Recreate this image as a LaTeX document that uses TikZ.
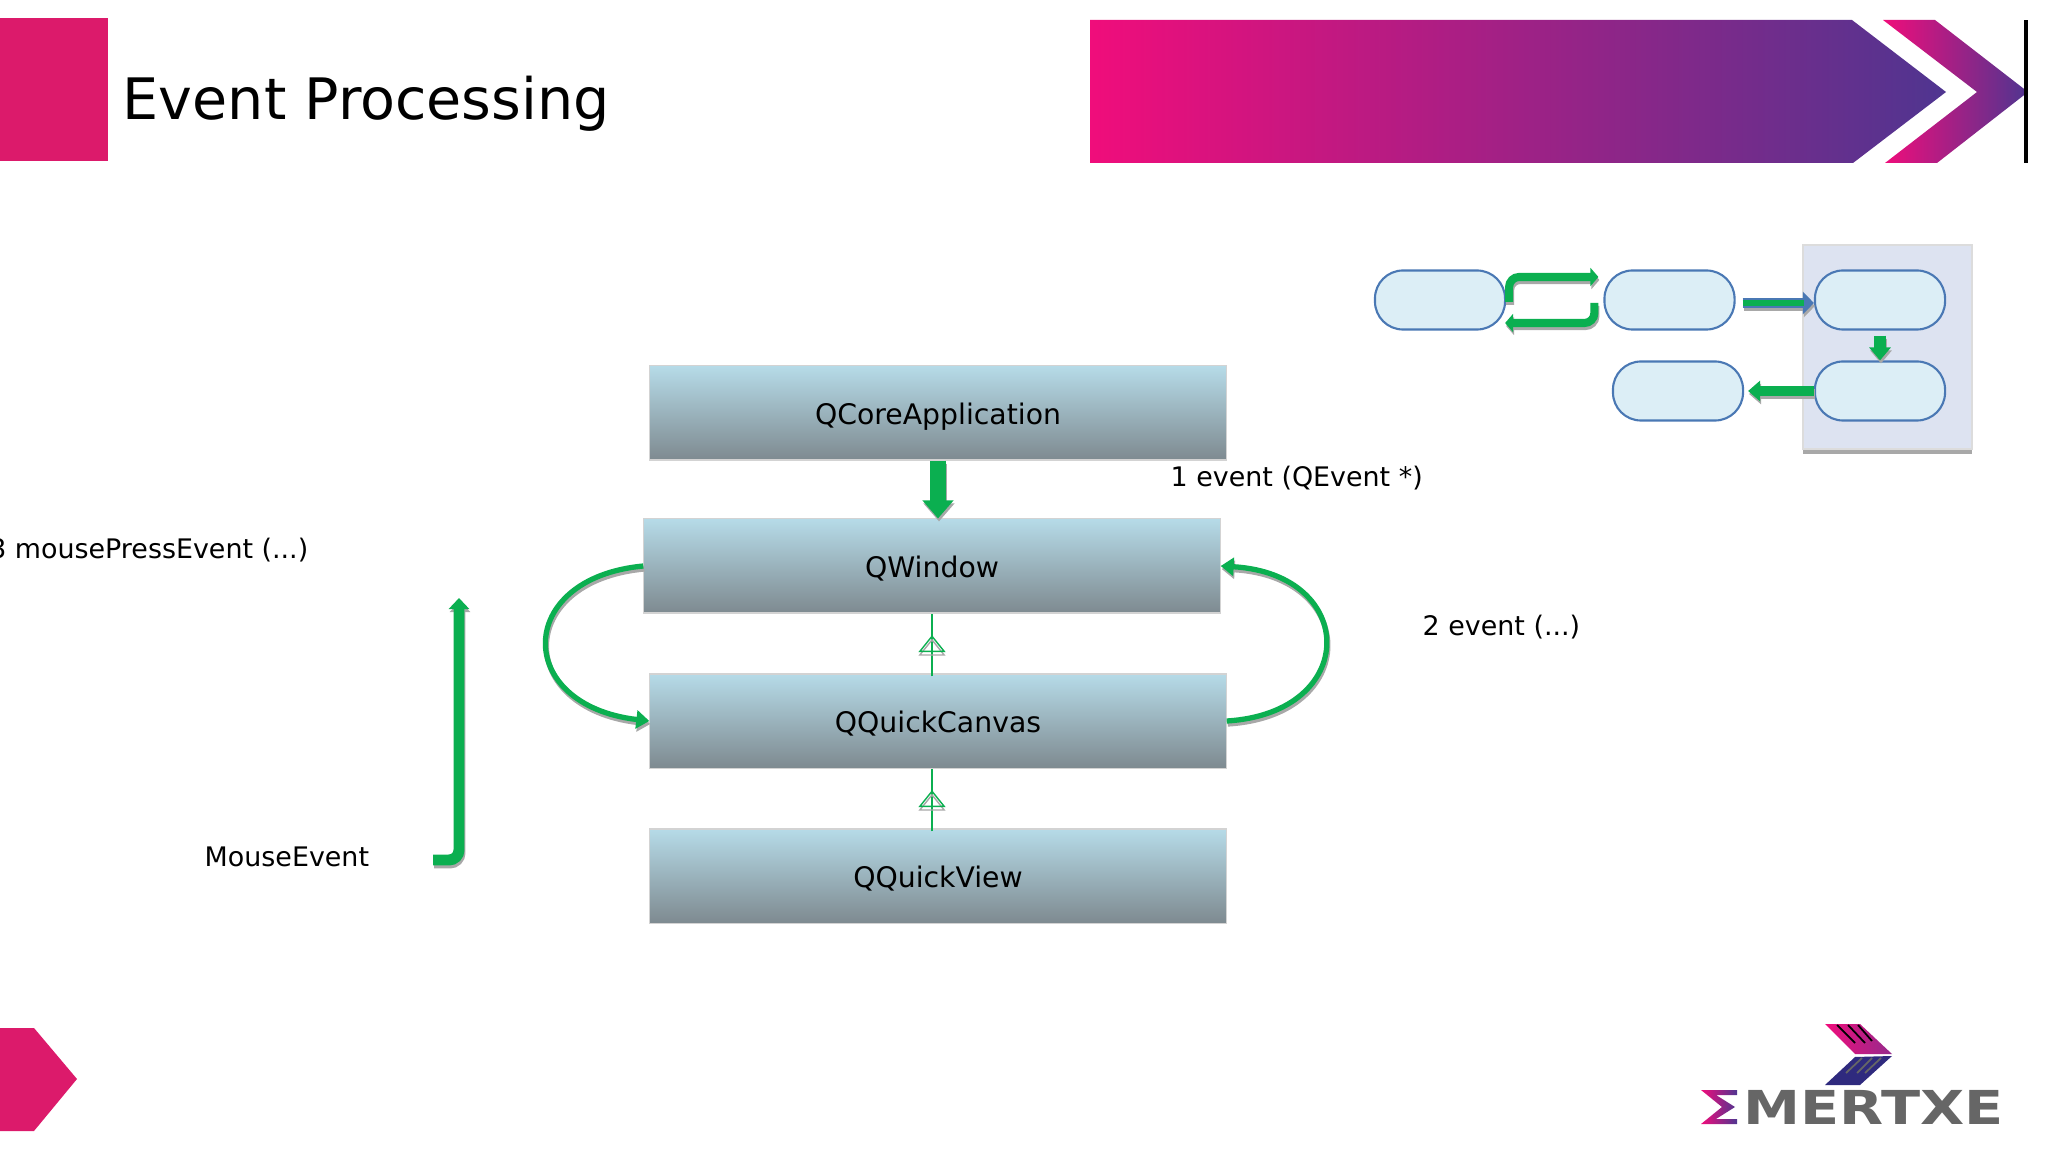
\documentclass[tikz,border=0pt]{standalone}
\usepackage{fontspec}
\usepackage{graphicx}
\setmainfont{DejaVu Sans}
\usetikzlibrary{arrows.meta,decorations.markings}

\definecolor{pinkmain}{HTML}{DC1A6B}
\definecolor{pinkbright}{HTML}{F00D7B}
\definecolor{purplemid}{HTML}{952A8C}
\definecolor{purpledark}{HTML}{4F3590}
\definecolor{arrowgreen}{HTML}{0BAF50}
\definecolor{shadowgray}{HTML}{A8A8A8}
\definecolor{boxtop}{HTML}{B6DBE8}
\definecolor{boxbottom}{HTML}{7E8A90}
\definecolor{pillfill}{HTML}{DCEEF6}
\definecolor{pillline}{HTML}{4A78B4}
\definecolor{panelfill}{HTML}{DDE3F1}
\definecolor{logogray}{HTML}{666666}
\definecolor{logoblue}{HTML}{2F2A7E}

\tikzset{
  classbox/.style={draw=shadowgray!50, line width=0.3pt, top color=boxtop, bottom color=boxbottom,
    minimum width=5.76cm, minimum height=0.94cm, inner sep=0pt, text height=0.232cm, text depth=0pt,
    font=\fontsize{8.05}{10}\selectfont},
  pill/.style={draw=pillline, line width=0.6pt, fill=pillfill, rounded corners=0.28cm,
    minimum width=1.30cm, minimum height=0.59cm, inner sep=0pt},
  label/.style={inner sep=0pt, font=\fontsize{7.65}{10}\selectfont},
  grayshadow/.style={line width=#1, preaction={draw=shadowgray, line width=#1, transform canvas={xshift=0.01cm,yshift=-0.03cm}}},
  bigarrow/.style={draw=arrowgreen, grayshadow=4.5pt, -{Triangle[width=30*0.2845pt,length=18*0.2845pt]}},
  curvearrow/.style={draw=arrowgreen, grayshadow=1.5pt, -{Triangle[width=18*0.2845pt,length=13*0.2845pt]}},
  elbowarrow/.style={draw=arrowgreen, grayshadow=2.3pt, rounded corners=0.1cm, -{Triangle[width=18*0.2845pt,length=8*0.2845pt]}},
  thinarrow/.style={draw=arrowgreen, line width=0.4pt, shorten <=-0.03cm, decoration={markings,
      mark=at position 0.58 with {\arrow[shadowgray]{Triangle[open,width=27*0.2845pt,length=17*0.2845pt]}},
      mark=at position 0.64 with {\arrow[arrowgreen]{Triangle[open,width=27*0.2845pt,length=17*0.2845pt]}}},
    postaction={decorate}},
}

\begin{document}
\begin{tikzpicture}[x=0.01cm,y=-0.01cm]
    \useasboundingbox (0,0) rectangle (2048,1152);

    % Header
    \fill[pinkmain] (0,18) rectangle (108,161);
    \node[anchor=west, inner sep=0pt, font=\fontsize{16.25}{20}\selectfont] (title) at (122,104) {Event Processing};
    \shade[left color=pinkbright, middle color=purplemid, right color=purpledark]
        (1090,20) -- (1852,20) -- (1946,92) -- (1853,163) -- (1090,163) -- cycle;
    \shade[left color=pinkbright, right color=purpledark]
        (1883,20) -- (1935,20) -- (2028,92) -- (1937,163) -- (1885,163) -- (1977,92) -- cycle;
    \fill[black] (2024,20) rectangle (2028,163);

    % Footer mark
    \fill[pinkmain] (0,1028) -- (34,1028) -- (77,1079) -- (34,1131) -- (0,1131) -- cycle;

    % Boxes
    \node[classbox] (qcore) at (938,413) {QCoreApplication};
    \node[classbox] (qwindow) at (932,566) {QWindow};
    \node[classbox] (qcanvas) at (938,721) {QQuickCanvas};
    \node[classbox] (qview) at (938,876) {QQuickView};

    % Labels
    \node[label, anchor=east] (presslabel) at (309,550) {3 mousePressEvent (...)};
    \node[label, anchor=west] (eventone) at (1170,478) {1 event (QEvent *)};
    \node[label, anchor=west] (eventtwo) at (1422,627) {2 event (...)};
    \node[label, anchor=west] (mouselabel) at (204,857) {MouseEvent};

    % Arrows between boxes
    \draw[bigarrow] (qcore.south) -- (qcore.south |- qwindow.north);
    \draw[thinarrow] (qwindow.south |- qcanvas.north) -- (qwindow.south);
    \draw[thinarrow] (qwindow.south |- qview.north) -- (qwindow.south |- qcanvas.south);
    \draw[curvearrow] (qwindow.west) .. controls +(-129,12) and +(-136,-16) .. (qcanvas.west);
    \draw[curvearrow] (qcanvas.east) .. controls +(133,-8) and +(138,8) .. (qwindow.east);

    % Mouse event arrow
    \coordinate (mousestart) at (433,860);
    \coordinate (mousetip) at (459,598);
    \draw[draw=arrowgreen, grayshadow=3.1pt, rounded corners=0.1cm,
        -{Triangle[width=20*0.2845pt,length=11*0.2845pt]}] (mousestart) -| (mousetip);

    % Small flow chart
    \fill[shadowgray] (1803,449) rectangle (1972,454);
    \fill[panelfill, draw=shadowgray!40, line width=0.3pt] (1803,245) rectangle (1972,449);
    \node[pill] (pillone) at (1440,300) {};
    \node[pill] (pilltwo) at (1669.5,300) {};
    \node[pill] (pillthree) at (1880,300) {};
    \node[pill] (pillfour) at (1880,391) {};
    \node[pill] (pillfive) at (1678,391) {};

    \draw[elbowarrow] ([xshift=0.03cm,yshift=-0.02cm]pillone.east) |- ([xshift=-0.05cm,yshift=0.23cm]pilltwo.west);
    \draw[elbowarrow] ([xshift=-0.09cm,yshift=-0.03cm]pilltwo.west) |- ([xshift=-0.01cm,yshift=-0.23cm]pillone.east);
    \draw[draw=pillline, grayshadow=2.6pt, shorten <=0.07cm,
        -{Triangle[width=22*0.2845pt,length=11*0.2845pt]}] ([yshift=-0.03cm]pilltwo.east) -- ([yshift=-0.03cm]pillthree.west);
    \draw[draw=arrowgreen, line width=1.6pt, shorten <=0.07cm, shorten >=0.1cm] ([yshift=-0.03cm]pilltwo.east) -- ([yshift=-0.03cm]pillthree.west);
    \draw[draw=arrowgreen, grayshadow=3.2pt, shorten <=0.05cm,
        -{Triangle[width=21*0.2845pt,length=13*0.2845pt]}] (pillthree.south) -- (pillfour.north);
    \draw[draw=arrowgreen, grayshadow=2.9pt, shorten >=0.04cm,
        -{Triangle[width=20*0.2845pt,length=12*0.2845pt]}] (pillfour.west) -- (pillfive.east);

    % Logo
    \shade[left color=pinkbright, right color=purplemid]
        (1825,1024) -- (1860,1024) -- (1892,1054) -- (1855,1054) -- cycle;
    \fill[logoblue] (1855,1057) -- (1892,1056) -- (1860,1085) -- (1825,1085) -- cycle;
    \draw[black, line width=0.5pt] (1837,1025) -- (1855,1043) (1848,1025) -- (1865,1043) (1858,1025) -- (1872,1041);
    \draw[logogray, line width=0.5pt] (1846,1073) -- (1862,1058) (1857,1073) -- (1872,1058) (1865,1073) -- (1881,1058);
    \shade[left color=pinkbright, right color=purpledark]
        (1701,1090) -- (1737,1090) -- (1737,1095) -- (1716,1095) -- (1735,1107) -- (1716,1119) -- (1737,1119) -- (1737,1124) -- (1701,1124) -- (1722,1107) -- cycle;
    \node[anchor=west, inner sep=0pt, text=logogray, font=\fontsize{13.3}{16}\selectfont\bfseries] (logoname) at (1743,1107) {\scalebox{1.225}[1]{MERTXE}};
\end{tikzpicture}
\end{document}
